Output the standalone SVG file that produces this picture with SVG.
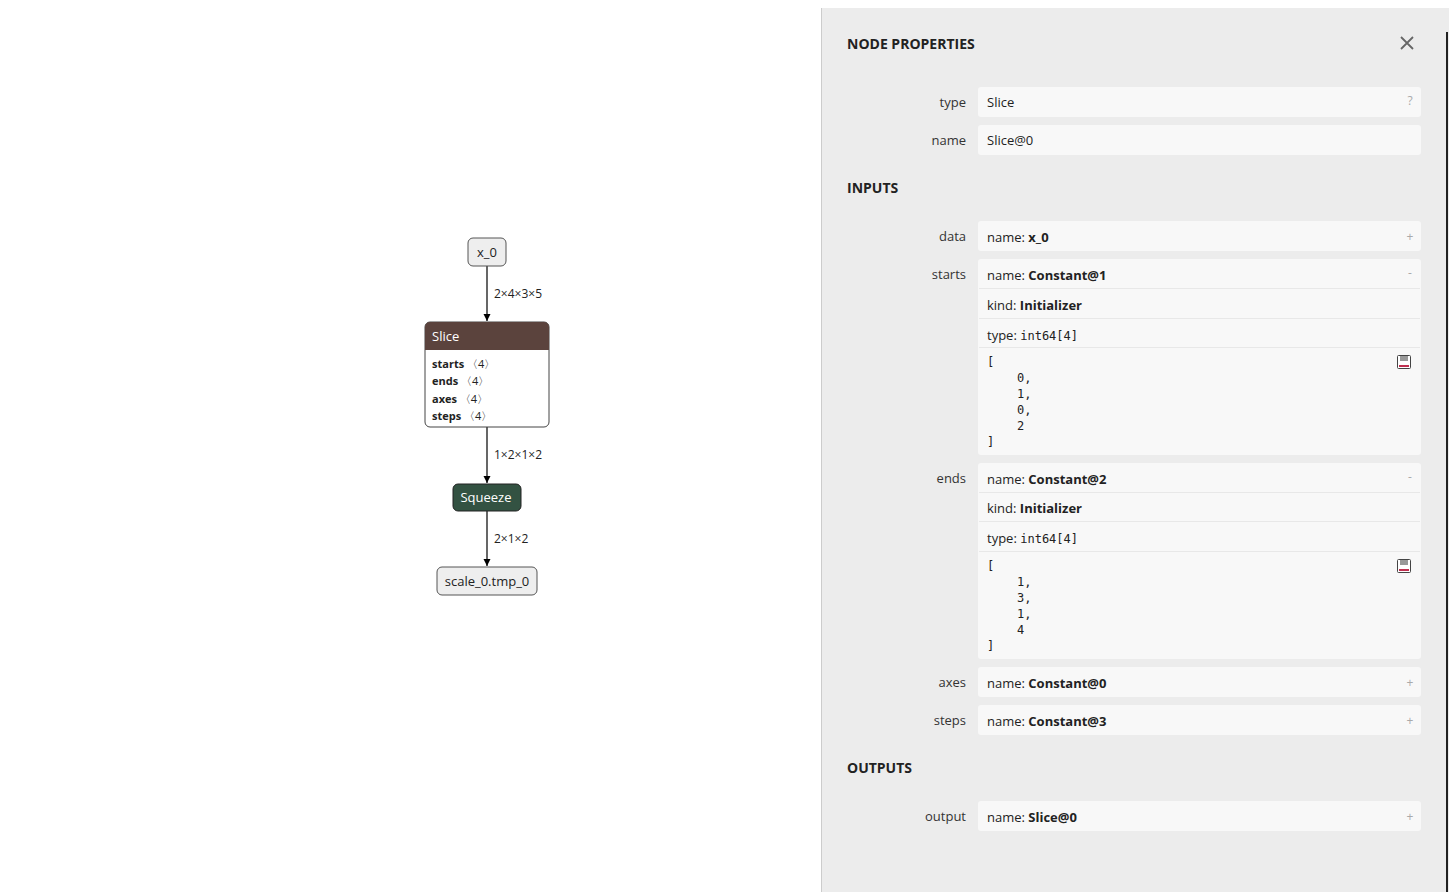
<svg xmlns="http://www.w3.org/2000/svg" width="1449" height="892" viewBox="0 0 1449 892">
<style>
text{font-family:"Open Sans","Noto Sans",sans-serif;font-size:13px;fill:#222}
.g{font-size:12px}
.lbl{text-anchor:end;fill:#333}
.box{fill:#f8f8f8}
.sep{stroke:#e8e8e8;stroke-width:1}
.b{font-weight:bold}
.m{font-family:"DejaVu Sans Mono","Liberation Mono",monospace;font-size:12px}
.h{font-weight:bold;font-size:14px;fill:#222}
.pm{fill:#aaa;font-size:12px}
.e{stroke:#000;stroke-width:1.2;fill:none}
</style>
<defs>
<marker id="ar" markerWidth="8" markerHeight="8" refX="7" refY="4" orient="auto" markerUnits="userSpaceOnUse"><path d="M0,0.5 L7,4 L0,7.5 z" fill="#000"/></marker>
</defs>
<rect width="1449" height="892" fill="#fff"/>
<g id="connectors">
<line class="e" x1="487" y1="266" x2="487" y2="321" marker-end="url(#ar)"/>
<line class="e" x1="487" y1="427" x2="487" y2="483" marker-end="url(#ar)"/>
<line class="e" x1="487" y1="511" x2="487" y2="566" marker-end="url(#ar)"/>
<text class="g" x="494" y="298">2×4×3×5</text>
<text class="g" x="494" y="459">1×2×1×2</text>
<text class="g" x="494" y="543">2×1×2</text>
</g>
<g id="x_0">
<rect x="468" y="238" width="38" height="28" rx="5" fill="#eee" stroke="#555"/>
<text x="487" y="257" text-anchor="middle">x_0</text>
</g>
<g id="slice">
<rect x="425" y="322" width="124" height="105" rx="5" fill="#fff" stroke="#444"/>
<path d="M425,350 V327 a5,5 0 0 1 5,-5 H544 a5,5 0 0 1 5,5 V350 z" fill="#5b433d"/>
<text x="432" y="341" fill="#fff" style="fill:#fff">Slice</text>
<g style="font-size:11px">
<text x="432" y="368" style="font-size:11px"><tspan class="b">starts</tspan> 〈4〉</text>
<text x="432" y="385" style="font-size:11px"><tspan class="b">ends</tspan> 〈4〉</text>
<text x="432" y="403" style="font-size:11px"><tspan class="b">axes</tspan> 〈4〉</text>
<text x="432" y="420" style="font-size:11px"><tspan class="b">steps</tspan> 〈4〉</text>
</g>
</g>
<g id="squeeze">
<rect x="453" y="484" width="68" height="27" rx="5" fill="#335242" stroke="#222"/>
<text x="486" y="502" text-anchor="middle" style="fill:#fff">Squeeze</text>
</g>
<g id="scale">
<rect x="437" y="567" width="100" height="28" rx="5" fill="#eee" stroke="#555"/>
<text x="487" y="586" text-anchor="middle">scale_0.tmp_0</text>
</g>
<g id="panel">
<rect x="821" y="8" width="628" height="884" fill="#ececec"/>
<line x1="821.5" y1="8" x2="821.5" y2="892" stroke="#ccc"/>
<line x1="1447" y1="32" x2="1447" y2="892" stroke="#222" stroke-width="2"/>
<text class="h" x="847" y="49">NODE PROPERTIES</text>
<path d="M1401,37 L1413,49 M1413,37 L1401,49" stroke="#666" stroke-width="1.8"/>
<text class="lbl" x="966" y="107">type</text>
<rect class="box" x="978" y="87" width="443" height="30" rx="3"/>
<text x="987" y="107">Slice</text><text class="pm" x="1410" y="105" text-anchor="middle">?</text>
<text class="lbl" x="966" y="145">name</text>
<rect class="box" x="978" y="125" width="443" height="30" rx="3"/>
<text x="987" y="145">Slice@0</text>
<text class="h" x="847" y="193">INPUTS</text>
<text class="lbl" x="966" y="241">data</text>
<rect class="box" x="978" y="221" width="443" height="30" rx="3"/>
<text x="987" y="242">name: <tspan class="b">x_0</tspan></text><text class="pm" x="1410" y="241" text-anchor="middle">+</text>
<text class="lbl" x="966" y="279">starts</text>
<rect class="box" x="978" y="259" width="443" height="196" rx="3"/>
<line class="sep" x1="979" y1="288.5" x2="1420" y2="288.5"/>
<line class="sep" x1="979" y1="318.5" x2="1420" y2="318.5"/>
<line class="sep" x1="979" y1="347.5" x2="1420" y2="347.5"/>
<text x="987" y="280">name: <tspan class="b">Constant@1</tspan></text><text class="pm" x="1410" y="277" text-anchor="middle">-</text>
<text x="987" y="310">kind: <tspan class="b">Initializer</tspan></text>
<text x="987" y="340">type: <tspan class="m">int64[4]</tspan></text>
<text class="m" x="987" y="366">[</text>
<text class="m" x="1017" y="382">0,</text>
<text class="m" x="1017" y="398">1,</text>
<text class="m" x="1017" y="414">0,</text>
<text class="m" x="1017" y="430">2</text>
<text class="m" x="987" y="446">]</text>
<g id="save1"><rect x="1397.5" y="355.5" width="13" height="13" rx="1" fill="#fff" stroke="#444"/><rect x="1400" y="356" width="8" height="5" fill="#999"/><rect x="1399" y="365" width="10" height="2" fill="#c03050"/></g>
<text class="lbl" x="966" y="483">ends</text>
<rect class="box" x="978" y="463" width="443" height="196" rx="3"/>
<line class="sep" x1="979" y1="492.5" x2="1420" y2="492.5"/>
<line class="sep" x1="979" y1="521.5" x2="1420" y2="521.5"/>
<line class="sep" x1="979" y1="551.5" x2="1420" y2="551.5"/>
<text x="987" y="484">name: <tspan class="b">Constant@2</tspan></text><text class="pm" x="1410" y="481" text-anchor="middle">-</text>
<text x="987" y="513">kind: <tspan class="b">Initializer</tspan></text>
<text x="987" y="543">type: <tspan class="m">int64[4]</tspan></text>
<text class="m" x="987" y="570">[</text>
<text class="m" x="1017" y="586">1,</text>
<text class="m" x="1017" y="602">3,</text>
<text class="m" x="1017" y="618">1,</text>
<text class="m" x="1017" y="634">4</text>
<text class="m" x="987" y="650">]</text>
<g id="save2"><rect x="1397.5" y="559.5" width="13" height="13" rx="1" fill="#fff" stroke="#444"/><rect x="1400" y="560" width="8" height="5" fill="#999"/><rect x="1399" y="569" width="10" height="2" fill="#c03050"/></g>
<text class="lbl" x="966" y="687">axes</text>
<rect class="box" x="978" y="667" width="443" height="30" rx="3"/>
<text x="987" y="688">name: <tspan class="b">Constant@0</tspan></text><text class="pm" x="1410" y="687" text-anchor="middle">+</text>
<text class="lbl" x="966" y="725">steps</text>
<rect class="box" x="978" y="705" width="443" height="30" rx="3"/>
<text x="987" y="726">name: <tspan class="b">Constant@3</tspan></text><text class="pm" x="1410" y="725" text-anchor="middle">+</text>
<text class="h" x="847" y="773">OUTPUTS</text>
<text class="lbl" x="966" y="821">output</text>
<rect class="box" x="978" y="801" width="443" height="30" rx="3"/>
<text x="987" y="822">name: <tspan class="b">Slice@0</tspan></text><text class="pm" x="1410" y="821" text-anchor="middle">+</text>
</g>
</svg>
